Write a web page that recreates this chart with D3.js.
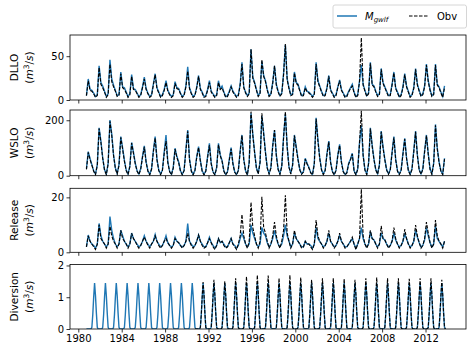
<!DOCTYPE html>
<html><head><meta charset="utf-8">
<script src="https://cdn.jsdelivr.net/npm/d3@7"></script>
<style>body{margin:0;background:#fff} svg{display:block} text{font-family:"DejaVu Sans",sans-serif;fill:#000}</style>
</head><body><svg id="c" width="474" height="356"></svg>
<script>
// ---------- DATA ----------
// flow series: bimonthly samples starting Oct 1980; one row per water year [Oct, Dec, Feb, Apr, Jun, Aug]
const flowStart = 1980.75;
const flowStep = 1 / 6;
const xTickYears = [1980, 1984, 1988, 1992, 1996, 2000, 2004, 2008, 2012];
const panelNames = ["DLLO", "WSLO", "Release", "Diversion"];
const yTicks = [[0, 50], [0, 200], [0, 20], [0, 1, 2]];
const yMax = [74.2, 237, 23.3, 2.03];

const dlloModel = [
  5, 24, 12, 11, 8, 4,
  6, 39, 20, 16, 10, 4,
  7, 46, 24, 17, 11, 5,
  6, 32, 15, 14, 9, 4,
  7, 29, 13, 12, 8, 4,
  6, 15, 26, 13, 8, 4,
  6, 18, 30, 14, 9, 4,
  6, 12, 22, 11, 7, 4,
  6, 21, 14, 13, 8, 4,
  6, 16, 38, 14, 8, 4,
  6, 15, 28, 13, 9, 4,
  5, 12, 22, 10, 7, 4,
  6, 22, 13, 16, 9, 4,
  5, 10, 16, 10, 7, 4,
  6, 18, 43, 15, 9, 5,
  8, 58, 26, 20, 12, 5,
  8, 44, 28, 22, 12, 5,
  7, 20, 39, 18, 10, 5,
  8, 30, 63, 24, 14, 6,
  7, 32, 20, 18, 11, 5,
  6, 15, 10, 9, 7, 4,
  7, 43, 22, 16, 10, 5,
  6, 14, 28, 12, 8, 4,
  6, 15, 23, 12, 8, 4,
  5, 10, 14, 18, 9, 4,
  6, 22, 40, 18, 11, 5,
  8, 43, 18, 16, 10, 5,
  7, 36, 20, 15, 10, 5,
  6, 18, 32, 14, 9, 4,
  6, 15, 30, 16, 10, 4,
  6, 14, 36, 18, 11, 5,
  7, 16, 41, 22, 12, 5,
  7, 41, 18, 15, 9, 4,
  16
];
const dlloObs = [
  5, 22, 11, 10, 7, 3,
  5, 37, 18, 14, 9, 3,
  6, 41, 21, 15, 10, 4,
  5, 30, 14, 12, 8, 3,
  6, 27, 12, 11, 7, 3,
  5, 14, 24, 12, 7, 3,
  5, 17, 29, 13, 8, 3,
  5, 11, 20, 10, 6, 3,
  5, 19, 13, 12, 7, 3,
  5, 15, 33, 13, 7, 3,
  5, 14, 27, 12, 8, 3,
  4, 11, 20, 9, 6, 3,
  5, 20, 12, 14, 8, 3,
  4, 9, 15, 9, 6, 3,
  5, 17, 41, 14, 8, 4,
  7, 58, 25, 19, 11, 4,
  7, 46, 27, 21, 11, 4,
  6, 19, 39, 17, 9, 4,
  7, 29, 64, 23, 13, 5,
  6, 31, 19, 17, 10, 4,
  5, 14, 9, 8, 6, 3,
  6, 41, 21, 15, 9, 4,
  5, 13, 27, 11, 7, 3,
  5, 14, 22, 11, 7, 3,
  4, 9, 13, 16, 8, 3,
  5, 21, 71, 17, 10, 4,
  7, 42, 17, 15, 9, 4,
  6, 35, 19, 14, 9, 4,
  5, 17, 31, 13, 8, 3,
  5, 14, 29, 15, 9, 3,
  5, 13, 35, 17, 10, 4,
  6, 15, 40, 21, 11, 4,
  6, 40, 17, 14, 8, 3,
  14
];
const wsloModel = [
  25, 87, 62, 40, 18, 6,
  40, 173, 125, 65, 22, 6,
  45, 201, 150, 75, 28, 8,
  40, 141, 100, 55, 20, 6,
  35, 120, 85, 45, 18, 6,
  25, 70, 108, 50, 18, 5,
  25, 90, 141, 60, 20, 6,
  20, 85, 147, 50, 16, 5,
  30, 99, 70, 50, 18, 5,
  20, 95, 165, 60, 18, 5,
  20, 70, 105, 55, 18, 5,
  18, 70, 117, 45, 14, 5,
  30, 117, 75, 55, 18, 5,
  15, 60, 101, 45, 14, 5,
  20, 90, 147, 60, 18, 5,
  50, 225, 150, 85, 28, 8,
  50, 215, 155, 85, 28, 8,
  30, 110, 165, 75, 24, 7,
  35, 140, 222, 105, 32, 8,
  40, 147, 105, 60, 22, 7,
  15, 63, 45, 30, 12, 5,
  45, 209, 130, 65, 22, 6,
  20, 80, 125, 50, 16, 5,
  20, 75, 113, 50, 16, 5,
  12, 45, 60, 81, 18, 5,
  25, 120, 180, 75, 22, 6,
  45, 173, 110, 60, 22, 7,
  40, 161, 105, 60, 22, 7,
  22, 85, 141, 60, 18, 6,
  20, 80, 135, 65, 20, 6,
  25, 90, 161, 75, 22, 7,
  25, 90, 147, 80, 25, 7,
  45, 185, 100, 50, 18, 6,
  63
];
const wsloObs = [
  23, 84, 58, 38, 16, 4,
  37, 170, 120, 62, 20, 4,
  42, 196, 145, 72, 25, 6,
  37, 138, 96, 52, 18, 4,
  32, 118, 80, 43, 16, 4,
  23, 66, 104, 48, 16, 3,
  23, 86, 136, 57, 18, 4,
  18, 80, 125, 47, 14, 3,
  27, 96, 66, 47, 16, 3,
  18, 90, 160, 57, 16, 3,
  18, 66, 102, 52, 16, 3,
  16, 66, 110, 42, 12, 3,
  27, 112, 72, 52, 16, 3,
  13, 56, 97, 42, 12, 3,
  18, 86, 145, 57, 16, 3,
  47, 231, 145, 82, 26, 6,
  47, 225, 150, 82, 26, 6,
  27, 106, 165, 72, 22, 5,
  32, 136, 231, 102, 30, 6,
  37, 145, 100, 57, 20, 5,
  13, 60, 42, 28, 10, 3,
  42, 205, 125, 62, 20, 4,
  18, 76, 122, 47, 14, 3,
  18, 72, 110, 47, 14, 3,
  10, 42, 57, 78, 16, 3,
  22, 116, 234, 72, 20, 4,
  42, 170, 106, 57, 20, 5,
  37, 158, 100, 57, 20, 5,
  20, 82, 138, 57, 16, 4,
  18, 76, 132, 62, 18, 4,
  22, 86, 158, 72, 20, 5,
  22, 86, 145, 77, 23, 5,
  42, 182, 96, 47, 16, 4,
  60
];
const releaseModel = [
  2, 6.3, 4, 3, 2.5, 1.5,
  3, 10.5, 6, 4, 3, 2,
  3, 13, 8, 5, 3, 2,
  3, 8, 6, 4, 3, 2,
  3, 7, 5, 4, 3, 2,
  2.5, 4, 6, 4, 3, 2,
  3, 4, 6.5, 4, 3, 2,
  2.5, 4, 6, 3.5, 2.5, 2,
  2.5, 5.5, 4, 3.5, 2.5, 2,
  2.5, 4, 10.5, 4, 3, 2,
  2.5, 4, 6.3, 4, 3, 2,
  2, 3.5, 5.5, 3.5, 2.5, 1.5,
  2.5, 5, 3.5, 4, 3, 2,
  2, 3.5, 5, 3, 2.5, 1.5,
  2.5, 5, 7, 5, 3, 2,
  3, 10, 7, 5, 3, 2,
  3, 9, 7, 6, 3.5, 2,
  3, 5, 8, 5, 3, 2,
  3, 6, 10, 6, 4, 2,
  3, 7, 5, 4, 3, 2,
  2, 4, 3, 3, 2.5, 1.5,
  3, 9, 5, 4, 3, 2,
  2.5, 4, 7, 4, 3, 2,
  2.5, 4, 6, 4, 3, 2,
  2, 3, 4, 5, 3, 1.5,
  3, 5, 9, 5, 3, 2,
  3, 7.5, 5, 4.5, 3, 2,
  3, 7, 5, 4.5, 3, 2,
  2.5, 4, 7, 4.5, 3, 2,
  2.5, 4, 6.5, 5, 3, 2,
  2.5, 4, 8, 5.5, 3.5, 2,
  2.5, 4.5, 9, 6, 3.5, 2,
  3, 9.5, 5, 4, 3, 2,
  4
];
const releaseObs = [
  2, 6, 4, 3, 2, 1,
  3, 10, 5, 4, 3, 1.5,
  3, 9.5, 6, 4, 3, 1.5,
  3, 8, 5, 4, 3, 1.5,
  3, 6.9, 5, 4, 2.5, 1.5,
  2.5, 4, 5.5, 4, 2.5, 1.5,
  3, 4, 6, 4, 2.5, 1.5,
  2.5, 4, 5, 3.5, 2.5, 1.5,
  2.5, 5, 4, 3.5, 2.5, 1.5,
  2.5, 4, 7, 4, 2.5, 1.5,
  2.5, 4, 6.3, 4, 2.5, 1.5,
  2, 3.5, 5, 3.5, 2, 1,
  2.5, 5, 3.5, 4, 2.5, 1.5,
  2, 3.5, 5, 3, 2, 1,
  3, 6, 13.8, 6, 3, 1.5,
  4, 18.2, 9, 6, 3, 1.5,
  4, 20.2, 9, 7, 4, 1.5,
  3, 6, 11, 6, 3, 1.5,
  4, 8, 20.8, 7, 4, 1.5,
  3, 8, 5, 4, 3, 1.5,
  2, 4, 3, 3, 2, 1,
  3, 11.7, 6, 4, 3, 1.5,
  2.5, 4, 8, 4, 3, 1.5,
  2.5, 4, 7, 4, 3, 1.5,
  2, 3, 4, 5.5, 3, 1,
  3, 5, 23, 6, 3, 1.5,
  3, 8, 5, 4.5, 3, 1.5,
  3, 9.6, 5, 4.5, 3, 1.5,
  2.5, 4, 9, 5, 3, 1.5,
  2.5, 4, 8.4, 5, 3, 1.5,
  2.5, 4, 9.9, 6, 3.5, 1.5,
  2.5, 5, 11, 7, 3.5, 1.5,
  3, 11.7, 6, 4, 3, 1.5,
  4
];
// diversion: monthly, rows Mar..Nov for each calendar year
const divModelYears = d3.range(1981, 2014);
const divModel = divModelYears.map(() => [0, 0.05, 0.45, 1.0, 1.45, 1.05, 0.5, 0.05, 0]);
const divObsYears = d3.range(1991, 2014);
const divObs = [
  [0, 0.05, 0.45, 1.0, 1.48, 1.1, 0.5, 0.05, 0],
  [0, 0.05, 0.5, 1.05, 1.55, 1.1, 0.5, 0.05, 0],
  [0, 0.05, 0.45, 1.0, 1.5, 1.1, 0.5, 0.05, 0],
  [0, 0.05, 0.5, 1.05, 1.6, 1.1, 0.5, 0.05, 0],
  [0, 0.05, 0.45, 1.05, 1.65, 1.1, 0.5, 0.05, 0],
  [0, 0.05, 0.5, 1.1, 1.7, 1.15, 0.5, 0.05, 0],
  [0, 0.05, 0.5, 1.1, 1.68, 1.15, 0.5, 0.05, 0],
  [0, 0.05, 0.5, 1.05, 1.6, 1.1, 0.5, 0.05, 0],
  [0, 0.05, 0.5, 1.1, 1.7, 1.15, 0.5, 0.05, 0],
  [0, 0.05, 0.45, 1.05, 1.62, 1.1, 0.5, 0.05, 0],
  [0, 0.05, 0.45, 1.0, 1.55, 1.1, 0.5, 0.05, 0],
  [0, 0.05, 0.5, 1.05, 1.6, 1.1, 0.5, 0.05, 0],
  [0, 0.05, 0.5, 1.05, 1.6, 1.1, 0.5, 0.05, 0],
  [0, 0.05, 0.5, 1.05, 1.58, 1.1, 0.5, 0.05, 0],
  [0, 0.05, 0.45, 1.0, 1.55, 1.1, 0.5, 0.05, 0],
  [0, 0.05, 0.5, 1.05, 1.6, 1.1, 0.5, 0.05, 0],
  [0, 0.05, 0.5, 1.05, 1.62, 1.1, 0.5, 0.05, 0],
  [0, 0.05, 0.5, 1.05, 1.6, 1.1, 0.5, 0.05, 0],
  [0, 0.05, 0.5, 1.05, 1.6, 1.1, 0.5, 0.05, 0],
  [0, 0.05, 0.5, 1.05, 1.58, 1.1, 0.5, 0.05, 0],
  [0, 0.05, 0.5, 1.05, 1.6, 1.1, 0.5, 0.05, 0],
  [0, 0.05, 0.5, 1.05, 1.6, 1.1, 0.5, 0.05, 0],
  [0, 0.05, 0.5, 1.05, 1.55, 1.1, 0.5, 0.05, 0]
];

// ---------- BUILD ----------
const flowSeries = vals => vals.map((v, i) => [flowStart + i * flowStep, v]);
const divSeries = (years, rows) => [[years[0] - 0.25, 0]].concat(
  rows.flatMap((r, yi) => r.map((v, mi) => [years[yi] + (mi + 2) / 12, v])));

const panels = [
  { m: flowSeries(dlloModel), o: flowSeries(dlloObs) },
  { m: flowSeries(wsloModel), o: flowSeries(wsloObs) },
  { m: flowSeries(releaseModel), o: flowSeries(releaseObs) },
  { m: divSeries(divModelYears, divModel), o: divSeries(divObsYears, divObs) }
];

const svg = d3.select("#c");
const L = 70, R = 466;
const tops = [35, 110, 188.3, 264.5], bottoms = [100, 175.7, 252.3, 329];
const x = d3.scaleLinear().domain([1979.235, 2015.73]).range([L, R]);
const blue = "#1f77b4";

panels.forEach((p, i) => {
  const y = d3.scaleLinear().domain([0, yMax[i]]).range([bottoms[i], tops[i]]);
  const g = svg.append("g");
  const clipId = "clip" + i;
  svg.append("clipPath").attr("id", clipId).append("rect")
    .attr("x", L).attr("y", tops[i]).attr("width", R - L).attr("height", bottoms[i] - tops[i]);
  const line = d3.line().x(d => x(d[0])).y(d => y(d[1]));
  g.append("path").datum(p.m).attr("d", line).attr("fill", "none")
    .attr("stroke", blue).attr("stroke-width", 1.4).attr("clip-path", `url(#${clipId})`);
  g.append("path").datum(p.o).attr("d", line).attr("fill", "none")
    .attr("stroke", "#000").attr("stroke-width", 1.1).attr("stroke-dasharray", "3.5,1.5")
    .attr("clip-path", `url(#${clipId})`);
  // frame
  g.append("rect").attr("x", L).attr("y", tops[i]).attr("width", R - L).attr("height", bottoms[i] - tops[i])
    .attr("fill", "none").attr("stroke", "#000").attr("stroke-width", 0.8);
  // y axis
  const ya = g.append("g").attr("transform", `translate(${L},0)`)
    .call(d3.axisLeft(y).tickValues(yTicks[i]).tickSize(3.5).tickPadding(2.5).tickFormat(d3.format("d")));
  ya.select(".domain").remove();
  ya.selectAll("text").attr("font-size", 10).attr("font-family", "DejaVu Sans");
  ya.selectAll("line").attr("stroke-width", 0.8);
  // x axis
  const xa = g.append("g").attr("transform", `translate(0,${bottoms[i]})`)
    .call(d3.axisBottom(x).tickValues(xTickYears).tickSize(3.5).tickPadding(2.5)
      .tickFormat(i === 3 ? d3.format("d") : () => ""));
  xa.select(".domain").remove();
  xa.selectAll("text").attr("font-size", 10).attr("font-family", "DejaVu Sans");
  xa.selectAll("line").attr("stroke-width", 0.8);
  // y label
  const cy = (tops[i] + bottoms[i]) / 2;
  svg.append("text").attr("transform", `translate(18,${cy}) rotate(-90)`)
    .attr("text-anchor", "middle").attr("font-size", 10.5).text(panelNames[i]);
  const t2 = svg.append("text").attr("transform", `translate(33,${cy}) rotate(-90)`)
    .attr("text-anchor", "middle").attr("font-size", 10.5);
  t2.append("tspan").text("(");
  t2.append("tspan").attr("font-style", "italic").text("m");
  t2.append("tspan").attr("font-size", 7.5).attr("dy", -4).text("3");
  t2.append("tspan").attr("dy", 4).text("/");
  t2.append("tspan").attr("font-style", "italic").text("s");
  t2.append("tspan").text(")");
});

// legend
const lg = svg.append("g");
lg.append("rect").attr("x", 333).attr("y", 5).attr("width", 133.5).attr("height", 23).attr("rx", 2)
  .attr("fill", "#fff").attr("fill-opacity", 0.8).attr("stroke", "#ccc").attr("stroke-width", 0.8);
lg.append("line").attr("x1", 337).attr("x2", 357).attr("y1", 16).attr("y2", 16)
  .attr("stroke", blue).attr("stroke-width", 1.5);
const lt = lg.append("text").attr("x", 365).attr("y", 19.5).attr("font-size", 10);
lt.append("tspan").attr("font-style", "italic").text("M");
lt.append("tspan").attr("font-style", "italic").attr("font-size", 7).attr("dy", 2).text("gwlf");
lg.append("line").attr("x1", 409).attr("x2", 429).attr("y1", 16).attr("y2", 16)
  .attr("stroke", "#000").attr("stroke-width", 1.1).attr("stroke-dasharray", "3.5,1.5");
lg.append("text").attr("x", 437).attr("y", 19.5).attr("font-size", 10).text("Obv");
</script></body></html>
